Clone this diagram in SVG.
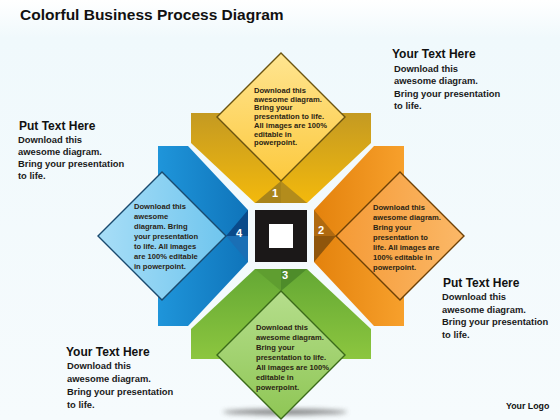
<svg xmlns="http://www.w3.org/2000/svg" width="560" height="420" viewBox="0 0 560 420">
<style>
.title{font-family:"Liberation Sans",Arial,sans-serif;font-weight:bold;font-size:15.5px;fill:#111}
.head{font-family:"Liberation Sans",Arial,sans-serif;font-weight:bold;font-size:12px;fill:#111}
.body{font-family:"Liberation Sans",Arial,sans-serif;font-weight:bold;font-size:9.4px;fill:#1a1a1a}
.dt{font-family:"Liberation Sans",Arial,sans-serif;font-weight:bold;font-size:7.6px;fill:#2a2414}
.num{font-family:"Liberation Sans",Arial,sans-serif;font-weight:bold;font-size:11px;fill:#fff;text-anchor:middle}
.logo{font-family:"Liberation Sans",Arial,sans-serif;font-weight:bold;font-size:8.8px;fill:#111}
.dia{stroke-width:1.4;stroke-linejoin:miter}
</style>
<defs>
<linearGradient id="bg" x1="0" y1="0" x2="0" y2="1">
<stop offset="0" stop-color="#ffffff"/><stop offset="0.09" stop-color="#f0f9fc"/><stop offset="1" stop-color="#f6fbfd"/>
</linearGradient>
<linearGradient id="yA" x1="0" y1="0" x2="0" y2="1"><stop offset="0" stop-color="#c49a22"/><stop offset="1" stop-color="#f3b90c"/></linearGradient>
<linearGradient id="yD" x1="0" y1="0" x2="0" y2="1"><stop offset="0" stop-color="#ffe591"/><stop offset="1" stop-color="#fcc93e"/></linearGradient>
<linearGradient id="oA" x1="0" y1="0" x2="0" y2="1"><stop offset="0" stop-color="#f7a02c"/><stop offset="1" stop-color="#e4820c"/></linearGradient>
<linearGradient id="oD" x1="0" y1="0" x2="0" y2="1"><stop offset="0" stop-color="#fbb868"/><stop offset="1" stop-color="#f59a35"/></linearGradient>
<linearGradient id="gA" x1="0" y1="0" x2="0" y2="1"><stop offset="0" stop-color="#8cc63f"/><stop offset="1" stop-color="#64a834"/></linearGradient>
<linearGradient id="gD" x1="0" y1="0" x2="0" y2="1"><stop offset="0" stop-color="#8fc655"/><stop offset="1" stop-color="#b5de8c"/></linearGradient>
<linearGradient id="bA" x1="0" y1="0" x2="0" y2="1"><stop offset="0" stop-color="#1f95da"/><stop offset="1" stop-color="#0f74ba"/></linearGradient>
<linearGradient id="bD" x1="0" y1="0" x2="0" y2="1"><stop offset="0" stop-color="#a8def7"/><stop offset="1" stop-color="#6fc5ee"/></linearGradient>
<filter id="blur" x="-20%" y="-200%" width="140%" height="500%"><feGaussianBlur stdDeviation="2.5"/></filter>
<path id="chev" d="M-90,-123 L90,-123 L90,-93 L26,-33 L-26,-33 L-90,-93 Z"/>
<path id="diam" d="M0,-183 L64,-119 L0,-55 L-64,-119 Z"/>
<path id="tabL" d="M0,-55 L-26,-33 L0,-33 Z"/>
<path id="tabR" d="M0,-55 L26,-33 L0,-33 Z"/>
</defs>
<rect width="560" height="420" fill="url(#bg)"/>
<ellipse cx="285" cy="412" rx="62" ry="3" fill="#555" opacity="0.7" filter="url(#blur)"/>
<text class="title" x="20" y="20">Colorful Business Process Diagram</text>

<g id="node-1">
<g transform="translate(281,236)">
<use href="#chev" fill="url(#yA)"/>
<use href="#tabL" fill="#a8841a"/>
<use href="#tabR" fill="#b38c1c"/>
<use href="#diam" class="dia" fill="url(#yD)" stroke="#6b5410"/>
</g>
<text class="num" x="275" y="197">1</text>
<text class="dt"><tspan x="254" y="93">Download this</tspan><tspan x="254" y="101.7">awesome diagram.</tspan><tspan x="254" y="110.4">Bring your</tspan><tspan x="254" y="119.1">presentation to life.</tspan><tspan x="254" y="127.8">All images are 100%</tspan><tspan x="254" y="136.5">editable in</tspan><tspan x="254" y="145.2">powerpoint.</tspan></text>
</g>

<g id="node-2">
<g transform="translate(281,236) rotate(90)">
<use href="#chev" fill="url(#oA)"/>
<use href="#tabL" fill="#b06a10"/>
<use href="#tabR" fill="#8f560c"/>
<use href="#diam" class="dia" fill="url(#oD)" stroke="#6e4106"/>
</g>
<text class="num" x="321" y="234">2</text>
<text class="dt"><tspan x="373" y="209.5">Download this</tspan><tspan x="373" y="219.5">awesome diagram.</tspan><tspan x="373" y="229.5">Bring your</tspan><tspan x="373" y="239.5">presentation to</tspan><tspan x="373" y="249.5">life. All images are</tspan><tspan x="373" y="259.5">100% editable in</tspan><tspan x="373" y="269.5">powerpoint.</tspan></text>
</g>

<g id="node-3">
<g transform="translate(281,236) rotate(180)">
<use href="#chev" fill="url(#gA)"/>
<use href="#tabL" fill="#4e8c2a"/>
<use href="#tabR" fill="#5f9e30"/>
<use href="#diam" class="dia" fill="url(#gD)" stroke="#3b6a1a"/>
</g>
<text class="num" x="285" y="279">3</text>
<text class="dt"><tspan x="256" y="330">Download this</tspan><tspan x="256" y="340">awesome diagram.</tspan><tspan x="256" y="350">Bring your</tspan><tspan x="256" y="360">presentation to life.</tspan><tspan x="256" y="370">All images are 100%</tspan><tspan x="256" y="380">editable in</tspan><tspan x="256" y="390">powerpoint.</tspan></text>
</g>

<g id="node-4">
<g transform="translate(281,236) rotate(270)">
<use href="#chev" fill="url(#bA)"/>
<use href="#tabL" fill="#1a6fb5"/>
<use href="#tabR" fill="#0a4a8a"/>
<use href="#diam" class="dia" fill="url(#bD)" stroke="#1a4a6e"/>
</g>
<text class="num" x="239" y="237">4</text>
<text class="dt"><tspan x="134" y="209">Download this</tspan><tspan x="134" y="219">awesome</tspan><tspan x="134" y="229">diagram. Bring</tspan><tspan x="134" y="239">your presentation</tspan><tspan x="134" y="249">to life. All images</tspan><tspan x="134" y="259">are 100% editable</tspan><tspan x="134" y="269">in powerpoint.</tspan></text>
</g>

<g id="center">
<rect x="255" y="210" width="52" height="52" fill="#1b1818"/>
<rect x="269" y="224" width="24" height="24" fill="#ffffff"/>
</g>

<g id="connectors"></g>

<g id="label-top-right">
<text class="head" x="392" y="58">Your Text Here</text>
<text class="body"><tspan x="394" y="72">Download this</tspan><tspan x="394" y="84.3">awesome diagram.</tspan><tspan x="394" y="96.6">Bring your presentation</tspan><tspan x="394" y="108.9">to life.</tspan></text>
</g>
<g id="label-left">
<text class="head" x="19" y="130">Put Text Here</text>
<text class="body"><tspan x="18" y="142.5">Download this</tspan><tspan x="18" y="154.8">awesome diagram.</tspan><tspan x="18" y="167.1">Bring your presentation</tspan><tspan x="18" y="179.4">to life.</tspan></text>
</g>
<g id="label-right">
<text class="head" x="443" y="287">Put Text Here</text>
<text class="body"><tspan x="442" y="300">Download this</tspan><tspan x="442" y="312.6">awesome diagram.</tspan><tspan x="442" y="325.2">Bring your presentation</tspan><tspan x="442" y="337.8">to life.</tspan></text>
</g>
<g id="label-bottom-left">
<text class="head" x="66" y="355.5">Your Text Here</text>
<text class="body"><tspan x="67" y="368.5">Download this</tspan><tspan x="67" y="381.6">awesome diagram.</tspan><tspan x="67" y="394.7">Bring your presentation</tspan><tspan x="67" y="407.8">to life.</tspan></text>
</g>
<text id="logo" class="logo" x="506" y="409">Your Logo</text>
</svg>
